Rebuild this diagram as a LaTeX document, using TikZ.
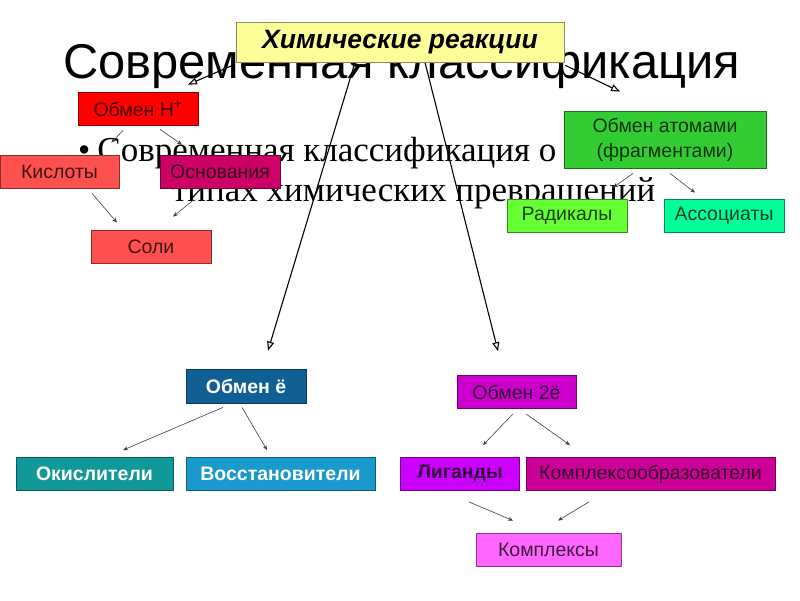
\documentclass[tikz,border=0pt]{standalone}
\usepackage{fontspec}
\setmainfont{Liberation Sans}
\newfontfamily\serifface{Liberation Serif}
\usetikzlibrary{arrows.meta,calc,backgrounds}
\pgfdeclarelayer{arrowlayer}
\pgfsetlayers{background,arrowlayer,main}
\definecolor{cyellow}{RGB}{255,255,153}
\definecolor{cred}{RGB}{255,0,0}
\definecolor{csalmon}{RGB}{255,80,80}
\definecolor{ccrimson}{RGB}{204,0,102}
\definecolor{cgreen}{RGB}{51,204,51}
\definecolor{clime}{RGB}{102,255,51}
\definecolor{cspring}{RGB}{0,255,153}
\definecolor{cnavy}{RGB}{16,96,150}
\definecolor{cteal}{RGB}{17,153,153}
\definecolor{cblue}{RGB}{26,153,204}
\definecolor{cpurple}{RGB}{204,0,204}
\definecolor{cviolet}{RGB}{204,0,255}
\definecolor{cmag}{RGB}{204,0,153}
\definecolor{cpink}{RGB}{255,102,255}
\tikzset{
  box/.style={draw=#1!55!black, fill=#1, text=#1!25!black, line width=0.8pt,
    inner sep=0pt, minimum height=33pt, font=\fontsize{19.5}{25}\selectfont, align=center},
  wbox/.style={draw=#1!60!black, fill=#1, text=white, line width=0.8pt,
    inner sep=0pt, minimum height=33pt, font=\fontsize{19.5}{24}\selectfont\bfseries},
  thinarr/.style={draw=black!75, line width=0.6pt, -{Stealth[length=5pt,width=4pt]}},
  longarr/.style={draw=black, line width=1.1pt, -{Triangle[open,length=9pt,width=7pt]}},
  slidetext/.style={anchor=base west, inner sep=0pt},
}
\begin{document}
\begin{tikzpicture}[x=1pt,y=-1pt]
\useasboundingbox (0,0) rectangle (800,600);
\begin{pgfonlayer}{background}
\fill[white] (0,0) rectangle (800,600);
\node[slidetext] (title) at (63,78) {\resizebox{677pt}{!}{\fontsize{52}{60}\selectfont Современная классификация}};
\node[slidetext, font=\serifface\fontsize{35}{42}\selectfont] (bul) at (78,161) {•\hspace{7pt}Современная классификация о};
\node[slidetext, font=\serifface\fontsize{35}{42}\selectfont] (bul2) at (172,201) {типах химических превращений};
\end{pgfonlayer}
% boxes
\node[box=cyellow, minimum width=328pt, minimum height=40pt, text=black, font=\fontsize{26.5}{28}\selectfont\bfseries\itshape] (chem) at (400,42) {Химические реакции};
\node[box=cred, minimum width=120pt] (obH) at (138,108.5) {Обмен H\textsuperscript{+}};
\node[box=csalmon, minimum width=119pt] (kisl) at (59.5,171.5) {Кислоты};
\node[box=ccrimson, minimum width=120pt] (osn) at (220,171.5) {Основания};
\node[box=csalmon, minimum width=120pt] (soli) at (151,246.5) {Соли};
\node[box=cgreen, minimum width=202pt, minimum height=57pt] (atom) at (665,139.5) {Обмен атомами\\(фрагментами)};
\node[box=clime, minimum width=120pt] (rad) at (567,215.5) {Радикалы};
\node[box=cspring, minimum width=120pt] (assoc) at (724,215.5) {Ассоциаты};
\node[wbox=cnavy, minimum width=120pt, minimum height=34pt] (obE) at (246,386) {Обмен ё};
\node[wbox=cteal, minimum width=157pt] (okisl) at (94.5,474) {Окислители};
\node[wbox=cblue, minimum width=189pt] (vosst) at (280.5,474) {Восстановители};
\node[box=cpurple, minimum width=119pt] (ob2E) at (516.5,392) {Обмен 2ё};
\node[box=cviolet, minimum width=119pt, font=\fontsize{19.5}{24}\selectfont\bfseries] (lig) at (460,474) {Лиганды};
\node[box=cmag, minimum width=249pt] (kompl) at (650.5,474) {Комплексообразователи};
\node[box=cpink, minimum width=145pt] (komplx) at (548.5,549.5) {Комплексы};
% arrows
\begin{pgfonlayer}{arrowlayer}
\draw[longarr] ($(chem.south west)+(-3,3)$) -- ($(obH.north)+(50,-7)$);
\draw[longarr] ($(chem.south east)+(1,3)$) -- ($(atom.north)+(-45,-19)$);
\draw[longarr] ($(chem.south)+(-45,0)$) -- ($(obE.north)+(22,-18)$);
\draw[longarr] ($(chem.south)+(25,0)$) -- ($(ob2E.north)+(-18.5,-24)$);
\draw[thinarr] ($(obH.south)+(-15,5)$) -- ($(kisl.north east)+(-8,-12)$);
\draw[thinarr] ($(obH.south)+(22,4)$) -- ($(osn.north)+(-38,-10)$);
\draw[thinarr] ($(kisl.south)+(32.5,5)$) -- ($(soli.north)+(-34,-7)$);
\draw[thinarr] ($(osn.south)+(-27,12)$) -- ($(soli.north)+(22,-13)$);
\draw[thinarr] ($(atom.south)+(-32,5)$) -- ($(rad.north)+(46,-11)$);
\draw[thinarr] ($(atom.south)+(5,5)$) -- ($(assoc.north)+(-29,-6)$);
\draw[thinarr] ($(obE.south)+(-23,4)$) -- ($(okisl.north)+(28.5,-7)$);
\draw[thinarr] ($(obE.south)+(-4,4)$) -- ($(vosst.north)+(-13.5,-7)$);
\draw[thinarr] ($(ob2E.south)+(-3.5,5)$) -- ($(lig.north)+(23,-12)$);
\draw[thinarr] ($(ob2E.south)+(9.5,5)$) -- ($(kompl.north)+(-80.5,-12)$);
\draw[thinarr] ($(lig.south)+(9,11)$) -- ($(komplx.north)+(-35.5,-12)$);
\draw[thinarr] ($(kompl.south)+(-61.5,11)$) -- ($(komplx.north)+(9.5,-12)$);
\end{pgfonlayer}
\end{tikzpicture}
\end{document}
